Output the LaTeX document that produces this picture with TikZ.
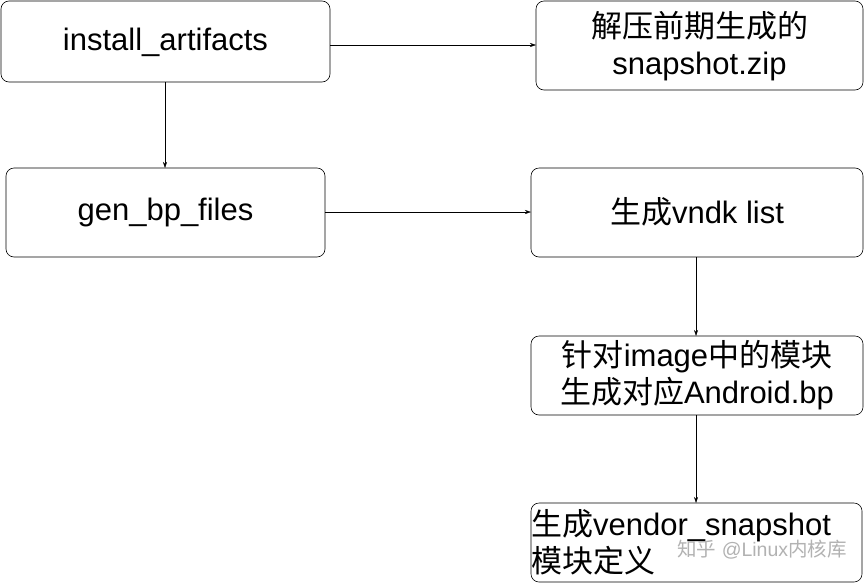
\documentclass[tikz,border=0pt]{standalone}
\usepackage{fontspec}
\usetikzlibrary{arrows.meta}
\setmainfont{Liberation Sans}
\newfontfamily\cjk{Noto Sans CJK SC}
\begin{document}
\begin{tikzpicture}[x=1pt,y=-1pt,
  box/.style={draw=black,rounded corners=8pt,line width=0.6pt,inner sep=0pt},
  lbl/.style={font=\fontsize{31}{37}\selectfont,align=center,inner sep=0pt},
  arr/.style={-{Stealth[length=6pt,width=4pt]},line width=0.5pt}]
\useasboundingbox[fill=white] (0,0) rectangle (866,584);
\draw[box] (1,1) rectangle (330,82);
\node[lbl] (a) at (165.5,42) {install\_artifacts};
\draw[box] (536,1) rectangle (863,90);
\node[lbl] (b) at (699.5,46) {{\cjk 解压前期生成的}\\snapshot.zip};
\draw[box] (6,168) rectangle (325,257);
\node[lbl] (c) at (165.5,212) {gen\_bp\_files};
\draw[box] (531,168) rectangle (863,257);
\node[lbl] (d) at (697,212) {{\cjk 生成}vndk list};
\draw[box] (531,336) rectangle (863,415);
\node[lbl] (e) at (697,375) {{\cjk 针对}image{\cjk 中的模块}\\{\cjk 生成对应}Android.bp};
\draw[box] (531,503) rectangle (862,582);
\node[lbl,align=left,anchor=west] (f) at (531,542) {{\cjk 生成}vendor\_snapshot\\{\cjk 模块定义}};
\node[font=\fontsize{19.5}{22}\selectfont,text=gray!60] (w) at (762,550) {{\cjk 知乎} @Linux{\cjk 内核库}};
\coordinate (a1) at (330,45); \coordinate (b1) at (536,45);
\coordinate (a2) at (165,82); \coordinate (c2) at (165,168);
\coordinate (c1) at (325,212); \coordinate (d1) at (531,212);
\coordinate (d2) at (696,257); \coordinate (e1) at (696,336);
\coordinate (e2) at (696,415); \coordinate (f1) at (696,503);
\draw[arr] (a1) -- (b1);
\draw[arr] (a2) -- (c2);
\draw[arr] (c1) -- (d1);
\draw[arr] (d2) -- (e1);
\draw[arr] (e2) -- (f1);
\end{tikzpicture}
\end{document}
